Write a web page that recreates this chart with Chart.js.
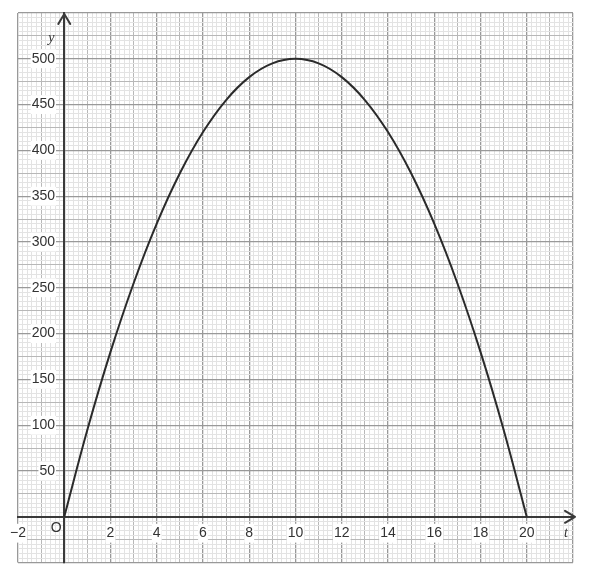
<!DOCTYPE html>
<html>
<head>
<meta charset="utf-8">
<script src="https://cdn.jsdelivr.net/npm/chart.js@4/dist/chart.umd.min.js"></script>
<style>
  html, body { margin: 0; padding: 0; background: #ffffff; }
  #wrap { width: 600px; height: 574px; }
</style>
</head>
<body>
<div id="wrap"><canvas id="c" width="600" height="574"></canvas></div>
<script>
// ---- data ----
const tValues = [0, 1, 2, 3, 4, 5, 6, 7, 8, 9, 10, 11, 12, 13, 14, 15, 16, 17, 18, 19, 20];
const yValues = [0, 95, 180, 255, 320, 375, 420, 455, 480, 495, 500, 495, 480, 455, 420, 375, 320, 255, 180, 95, 0];
const xTickLabels = [-2, 2, 4, 6, 8, 10, 12, 14, 16, 18, 20];
const yTickLabels = [50, 100, 150, 200, 250, 300, 350, 400, 450, 500];
const xRange = [-2, 22];
const yRange = [-50, 550];

const points = tValues.map((t, i) => ({ x: t, y: yValues[i] }));

function gridColorFor(idx) {
  if (idx % 10 === 0) return '#999999';
  if (idx % 5 === 0) return '#b8b8b8';
  return '#e3e3e3';
}
const labelFont = { family: '"Liberation Sans", Arial, sans-serif', size: 14 };
const hasLabel = (c) => !!(c.tick && c.tick.label !== '' && c.tick.label != null);

const axisPlugin = {
  id: 'axisDecor',
  afterDraw(chart) {
    const ctx = chart.ctx;
    const xs = chart.scales.x, ys = chart.scales.y;
    const x0 = xs.getPixelForValue(0), y0 = ys.getPixelForValue(0);
    const xEnd = chart.chartArea.right + 2, yEnd = chart.chartArea.top + 1;
    ctx.save();
    ctx.strokeStyle = '#3a3a3a';
    ctx.lineWidth = 2;
    ctx.lineCap = 'round';
    ctx.lineJoin = 'round';
    ctx.beginPath();
    ctx.moveTo(xEnd - 10, y0 - 6);
    ctx.lineTo(xEnd, y0);
    ctx.lineTo(xEnd - 10, y0 + 6);
    ctx.stroke();
    ctx.beginPath();
    ctx.moveTo(x0 - 6, yEnd + 10);
    ctx.lineTo(x0, yEnd);
    ctx.lineTo(x0 + 6, yEnd + 10);
    ctx.stroke();
    ctx.fillStyle = '#333';
    ctx.font = '14px "Liberation Sans", Arial, sans-serif';
    ctx.textAlign = 'center';
    ctx.textBaseline = 'middle';
    ctx.fillText('O', x0 - 8, y0 + 11);
    ctx.font = 'italic 14px "Liberation Serif", "DejaVu Serif", serif';
    ctx.fillText('t', xEnd - 9, y0 + 17);
    ctx.fillText('y', x0 - 13, ys.getPixelForValue(522));
    ctx.restore();
  }
};

new Chart(document.getElementById('c'), {
  type: 'scatter',
  data: {
    datasets: [{
      data: points,
      showLine: true,
      tension: 0.4,
      borderColor: '#2b2b2b',
      borderWidth: 2,
      pointRadius: 0,
      fill: false
    }]
  },
  options: {
    responsive: false,
    animation: false,
    layout: { padding: { left: 18, top: 13, right: 27, bottom: 11 } },
    plugins: { legend: { display: false }, tooltip: { enabled: false } },
    scales: {
      x: {
        type: 'linear',
        position: { y: 0 },
        min: xRange[0], max: xRange[1],
        border: { display: true, color: '#3a3a3a', width: 2 },
        grid: {
          drawTicks: true,
          tickLength: 6,
          tickColor: 'rgba(0,0,0,0)',
          color: (c) => gridColorFor(Math.round((c.tick.value - xRange[0]) * 5)),
          lineWidth: (c) => (Math.round((c.tick.value - xRange[0]) * 5) % 10 === 0 ? 1.3 : 1)
        },
        ticks: {
          stepSize: 0.2,
          autoSkip: false,
          maxTicksLimit: 1000,
          maxRotation: 0,
          padding: 2,
          color: '#333',
          font: labelFont,
          showLabelBackdrop: hasLabel,
          backdropColor: '#ffffff',
          backdropPadding: 1,
          callback: function (v) {
            const r = Math.round(v * 5) / 5;
            if (Math.abs(r - Math.round(r)) < 1e-6 && xTickLabels.includes(Math.round(r))) {
              const n = Math.round(r);
              return n < 0 ? '\u2212' + Math.abs(n) : String(n);
            }
            return '';
          }
        }
      },
      y: {
        type: 'linear',
        position: { x: 0 },
        min: yRange[0], max: yRange[1],
        border: { display: true, color: '#3a3a3a', width: 2 },
        grid: {
          drawTicks: false,
          color: (c) => gridColorFor(Math.round((c.tick.value - yRange[0]) / 5)),
          lineWidth: (c) => (Math.round((c.tick.value - yRange[0]) / 5) % 10 === 0 ? 1.3 : 1)
        },
        ticks: {
          stepSize: 5,
          autoSkip: false,
          maxTicksLimit: 1000,
          display: false
        }
      },
      yLabels: {
        type: 'linear',
        axis: 'y',
        position: { x: -0.4 },
        min: yRange[0], max: yRange[1],
        border: { display: false },
        grid: { display: false, drawTicks: false },
        ticks: {
          stepSize: 50,
          autoSkip: false,
          color: '#333',
          font: labelFont,
          showLabelBackdrop: hasLabel,
          backdropColor: '#ffffff',
          backdropPadding: 1,
          callback: function (v) {
            const r = Math.round(v);
            return yTickLabels.includes(r) ? String(r) : '';
          }
        }
      }
    }
  },
  plugins: [axisPlugin]
});
</script>
</body>
</html>
